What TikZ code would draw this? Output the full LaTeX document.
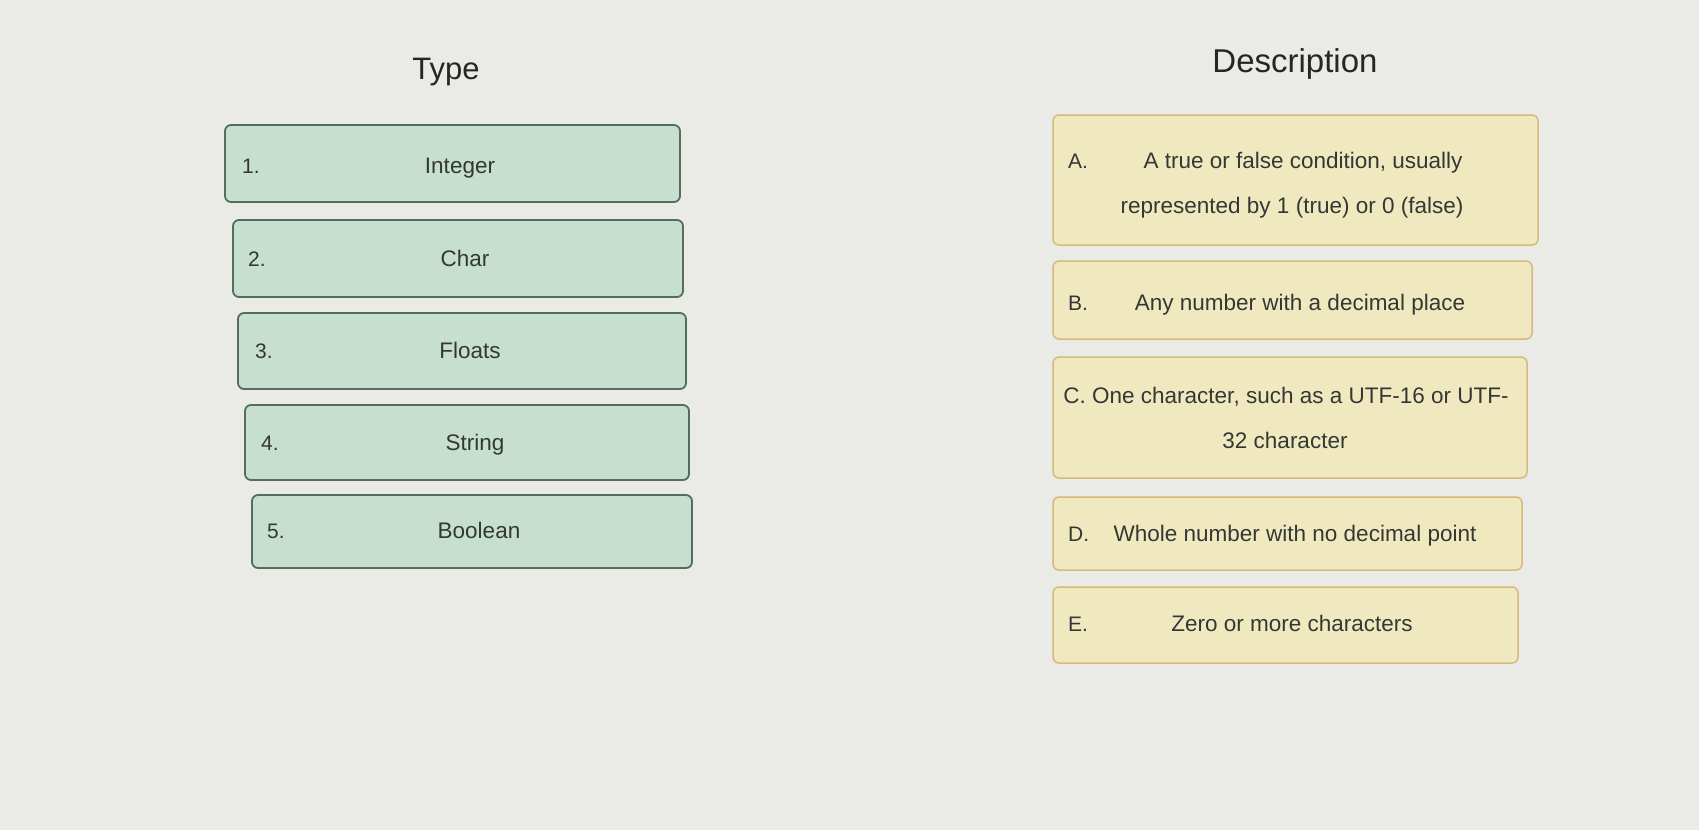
\documentclass[tikz,border=0pt]{standalone}
\usepackage{fontspec}
\setmainfont{Liberation Sans}
\usepackage{xcolor}
\usepackage{tikz}

\definecolor{bgGray}{RGB}{234,234,231}
\definecolor{typeFill}{RGB}{198,223,206}
\definecolor{typeLine}{RGB}{84,110,94}
\definecolor{descFill}{RGB}{240,233,192}
\definecolor{descLine}{RGB}{214,186,124}
\definecolor{inkGray}{RGB}{52,56,52}

\tikzset{
    typebox/.style={draw=typeLine, fill=typeFill, line width=1.8pt, rounded corners=6pt, inner sep=0pt},
    descbox/.style={draw=descLine, fill=descFill, line width=1.5pt, rounded corners=6pt, inner sep=0pt},
    boxtext/.style={text=inkGray, font=\fontsize{22.5}{26}\selectfont, anchor=base, inner sep=0pt},
    marker/.style={text=inkGray, font=\fontsize{21}{25}\selectfont, anchor=base west, inner sep=0pt},
    heading/.style={text=black!85, font=\fontsize{31}{36}\selectfont, anchor=base, inner sep=0pt}
}

\begin{document}
\begin{tikzpicture}[x=1pt, y=-1pt]
        \fill[bgGray] (0,0) rectangle (1699,830);
        \useasboundingbox (0,0) rectangle (1699,830);

        % headings
        \node[heading] (typeHead) at (446,79) {Type};
        \node[heading, font=\fontsize{33}{38}\selectfont] (descHead) at (1295,72) {Description};

        % type column
        \node[typebox, minimum width=455pt, minimum height=77pt] (intBox) at (452.5,163.5) {};
        \node[typebox, minimum width=450pt, minimum height=77pt] (charBox) at (458,258.5) {};
        \node[typebox, minimum width=448pt, minimum height=76pt] (floatBox) at (462,351) {};
        \node[typebox, minimum width=444pt, minimum height=75pt] (strBox) at (467,442.5) {};
        \node[typebox, minimum width=440pt, minimum height=73pt] (boolBox) at (472,531.5) {};

        \node[marker] (n1) at (242,173) {1.};
        \node[marker] (n2) at (248,266) {2.};
        \node[marker] (n3) at (255,358) {3.};
        \node[marker] (n4) at (261,450) {4.};
        \node[marker] (n5) at (267,538) {5.};

        \node[boxtext] (intText) at (460,173) {Integer};
        \node[boxtext] (charText) at (465,266) {Char};
        \node[boxtext] (floatText) at (470,358) {Floats};
        \node[boxtext] (strText) at (475,450) {String};
        \node[boxtext] (boolText) at (479,538) {Boolean};

        % description column
        \node[descbox, minimum width=485pt, minimum height=130pt] (boxA) at (1295.5,180) {};
        \node[descbox, minimum width=479pt, minimum height=78pt] (boxB) at (1292.5,300) {};
        \node[descbox, minimum width=474pt, minimum height=121pt] (boxC) at (1290,417.5) {};
        \node[descbox, minimum width=469pt, minimum height=73pt] (boxD) at (1287.5,533.5) {};
        \node[descbox, minimum width=465pt, minimum height=76pt] (boxE) at (1285.5,625) {};

        \node[marker] (lA) at (1068,168) {A.};
        \node[marker] (lB) at (1068,310) {B.};
        \node[marker] (lD) at (1068,541) {D.};
        \node[marker] (lE) at (1068,631) {E.};

        \node[boxtext] (textA1) at (1303,168) {A true or false condition, usually};
        \node[boxtext] (textA2) at (1292,213) {represented by 1 (true) or 0 (false)};
        \node[boxtext] (textB) at (1300,310) {Any number with a decimal place};
        \node[boxtext] (textC1) at (1286,403) {C. One character, such as a UTF-16 or UTF-};
        \node[boxtext] (textC2) at (1285,448) {32 character};
        \node[boxtext] (textD) at (1295,541) {Whole number with no decimal point};
        \node[boxtext] (textE) at (1292,631) {Zero or more characters};
    \end{tikzpicture}
\end{document}
